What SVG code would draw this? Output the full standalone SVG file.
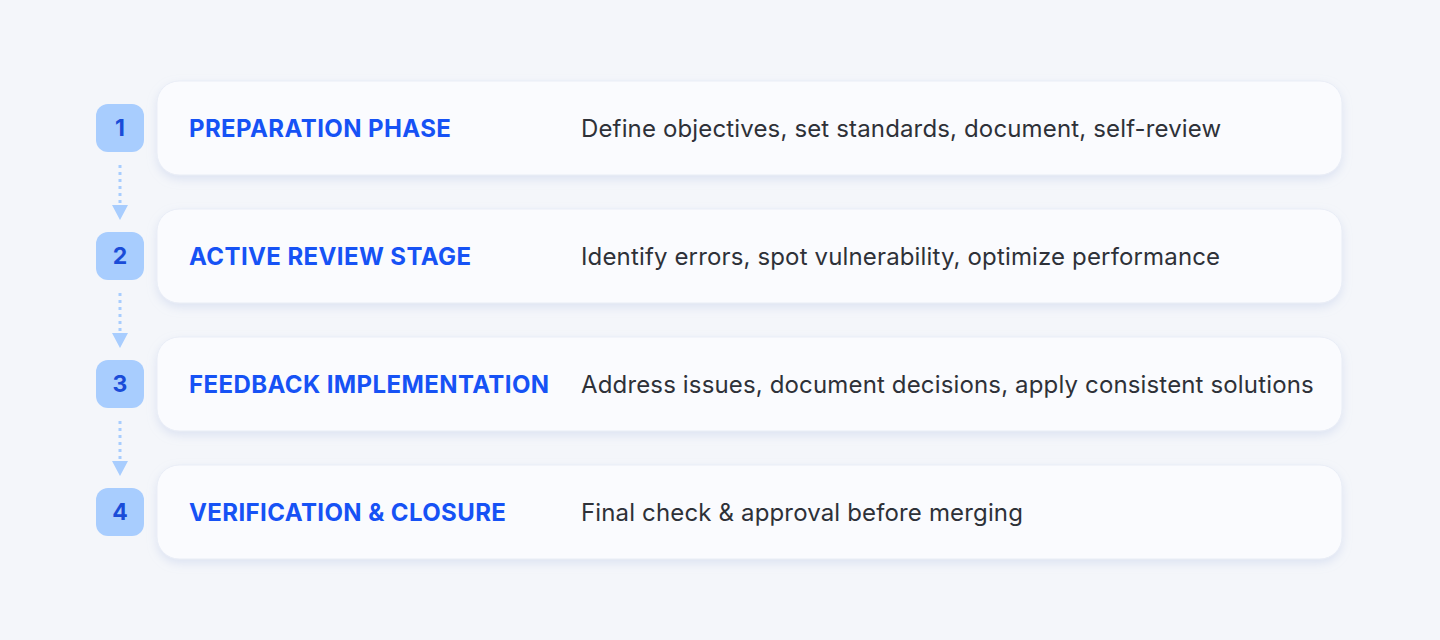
<svg xmlns="http://www.w3.org/2000/svg" width="1440" height="640" viewBox="0 0 1440 640">
<defs>
<style>
.card{fill:#FAFBFE;stroke:#E9EDF6;stroke-width:1}
.badge{fill:#A8CDFE}
.num{font-family:Inter,"Liberation Sans",sans-serif;font-weight:700;font-size:23px;fill:#1A4CD8;text-anchor:middle}
.title{font-family:Inter,"Liberation Sans",sans-serif;font-weight:700;font-size:24px;fill:#1652F5;letter-spacing:0.4px}
.desc{font-family:Inter,"Liberation Sans",sans-serif;font-weight:400;font-size:24px;fill:#2E3138;letter-spacing:0.15px}
.conn{stroke:#A8CDFE;stroke-width:3;stroke-dasharray:3 4;fill:none}
</style>
<filter id="sh" x="-5%" y="-30%" width="110%" height="170%">
<feDropShadow dx="0" dy="4" stdDeviation="5" flood-color="#A9B8E0" flood-opacity="0.3"/>
</filter>
</defs>
<rect width="1440" height="640" fill="#F4F6FA"/>
<g id="connectors">
<line class="conn" x1="120" y1="165" x2="120" y2="205"/><path d="M112,205 L128,205 L120,220 Z" fill="#A8CDFE"/>
<line class="conn" x1="120" y1="293" x2="120" y2="333"/><path d="M112,333 L128,333 L120,348 Z" fill="#A8CDFE"/>
<line class="conn" x1="120" y1="421" x2="120" y2="461"/><path d="M112,461 L128,461 L120,476 Z" fill="#A8CDFE"/>
</g>
<g id="step1">
<rect class="card" x="157" y="81" width="1185" height="94" rx="22" filter="url(#sh)"/>
<rect class="badge" x="96" y="104" width="48" height="48" rx="12"/>
<text class="num" x="120" y="136">1</text>
<text class="title" x="189" y="137">PREPARATION PHASE</text>
<text class="desc" x="581" y="137">Define objectives, set standards, document, self-review</text>
</g>
<g id="step2">
<rect class="card" x="157" y="209" width="1185" height="94" rx="22" filter="url(#sh)"/>
<rect class="badge" x="96" y="232" width="48" height="48" rx="12"/>
<text class="num" x="120" y="264">2</text>
<text class="title" x="189" y="265">ACTIVE REVIEW STAGE</text>
<text class="desc" x="581" y="265">Identify errors, spot vulnerability, optimize performance</text>
</g>
<g id="step3">
<rect class="card" x="157" y="337" width="1185" height="94" rx="22" filter="url(#sh)"/>
<rect class="badge" x="96" y="360" width="48" height="48" rx="12"/>
<text class="num" x="120" y="392">3</text>
<text class="title" x="189" y="393">FEEDBACK IMPLEMENTATION</text>
<text class="desc" x="581" y="393">Address issues, document decisions, apply consistent solutions</text>
</g>
<g id="step4">
<rect class="card" x="157" y="465" width="1185" height="94" rx="22" filter="url(#sh)"/>
<rect class="badge" x="96" y="488" width="48" height="48" rx="12"/>
<text class="num" x="120" y="520">4</text>
<text class="title" x="189" y="521">VERIFICATION &amp; CLOSURE</text>
<text class="desc" x="581" y="521">Final check &amp; approval before merging</text>
</g>
</svg>
